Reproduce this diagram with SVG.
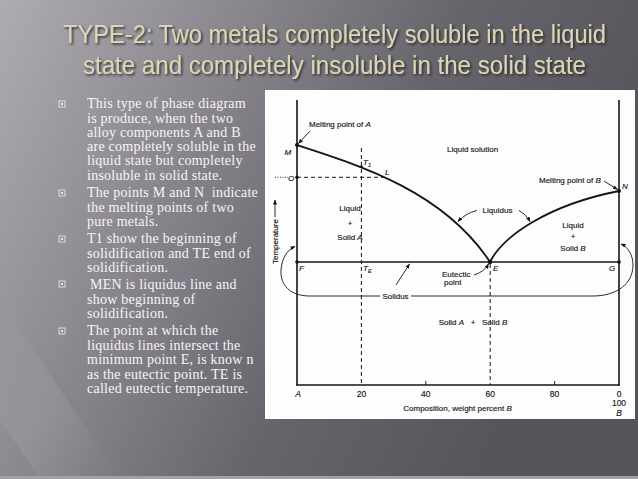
<svg xmlns="http://www.w3.org/2000/svg" width="638" height="479" viewBox="0 0 638 479">
<defs>
<linearGradient id="bg" x1="0" y1="0" x2="1" y2="0.35">
<stop offset="0" stop-color="#aeabb3"/>
<stop offset="0.3" stop-color="#8e8b93"/>
<stop offset="0.65" stop-color="#67656c"/>
<stop offset="1" stop-color="#56545a"/>
</linearGradient>
<linearGradient id="streak" x1="0" y1="0" x2="1" y2="1">
<stop offset="0" stop-color="#ffffff" stop-opacity="0"/>
<stop offset="0.5" stop-color="#ffffff" stop-opacity="0.08"/>
<stop offset="1" stop-color="#ffffff" stop-opacity="0"/>
</linearGradient>
<filter id="sh" x="-5%" y="-30%" width="110%" height="160%">
<feDropShadow dx="1.5" dy="1.5" stdDeviation="0.8" flood-color="#1e1c20" flood-opacity="0.85"/>
</filter>
<marker id="ah" viewBox="0 0 10 10" refX="9" refY="5" markerWidth="5" markerHeight="5" orient="auto" markerUnits="userSpaceOnUse">
<path d="M0,1 L10,5 L0,9 Z" fill="#111"/>
</marker>
<style>
.title{font-family:"Liberation Sans",Arial,sans-serif;font-size:25px;fill:#dcd5b4;filter:url(#sh);}
.body{font-family:"Liberation Serif","Times New Roman",serif;font-size:14px;letter-spacing:0.25px;fill:#f6f5f7;}
.bul{fill:none;stroke:#e6e4e8;stroke-width:0.9;}
.lab{font-family:"Liberation Sans",Arial,sans-serif;font-size:8px;fill:#151515;stroke:#151515;stroke-width:0.15;}
.num{font-family:"Liberation Sans",Arial,sans-serif;font-size:8.5px;fill:#151515;stroke:#151515;stroke-width:0.15;}
.it{font-style:italic;}
.ax{stroke:#151515;stroke-width:1.6;fill:none;}
.cv{stroke:#151515;stroke-width:1.8;fill:none;}
.th{stroke:#151515;stroke-width:0.9;fill:none;}
.ds{stroke:#151515;stroke-width:1;fill:none;stroke-dasharray:4 3;}
.dot{fill:#111;}
</style>
</defs>

<rect x="0" y="0" width="638" height="479" fill="url(#bg)"/>
<path d="M0,300 L120,479 L40,479 L0,420 Z" fill="url(#streak)"/>
<rect x="0" y="476" width="638" height="3" fill="#a3a1a6"/>

<g id="title">
<text class="title" x="334.5" y="43" text-anchor="middle" textLength="543" lengthAdjust="spacingAndGlyphs">TYPE-2: Two metals completely soluble in the liquid</text>
<text class="title" x="334.5" y="74" text-anchor="middle" textLength="503" lengthAdjust="spacingAndGlyphs">state and completely insoluble in the solid state</text>
</g>

<g id="bullets">
<g class="bul">
<rect x="59" y="101" width="6" height="6"/>
<rect x="59" y="190" width="6" height="6"/>
<rect x="59" y="236" width="6" height="6"/>
<rect x="59" y="281" width="6" height="6"/>
<rect x="59" y="328" width="6" height="6"/>
</g>
<g fill="#e6e4e8">
<rect x="61" y="103" width="2" height="2"/>
<rect x="61" y="192" width="2" height="2"/>
<rect x="61" y="238" width="2" height="2"/>
<rect x="61" y="283" width="2" height="2"/>
<rect x="61" y="330" width="2" height="2"/>
</g>
<g class="body">
<text x="87" y="108">This type of phase diagram</text>
<text x="87" y="122.5">is produce, when the two</text>
<text x="87" y="137">alloy components A and B</text>
<text x="87" y="151">are completely soluble in the</text>
<text x="87" y="165">liquid state but completely</text>
<text x="87" y="179.5">insoluble in solid state.</text>
<text x="87" y="197" xml:space="preserve">The points M and N  indicate</text>
<text x="87" y="211.5">the melting points of two</text>
<text x="87" y="226">pure metals.</text>
<text x="87" y="242.5">T1 show the beginning of</text>
<text x="87" y="257.5">solidification and TE end of</text>
<text x="87" y="271.5">solidification.</text>
<text x="90" y="288.5">MEN is liquidus line and</text>
<text x="87" y="304">show beginning of</text>
<text x="87" y="318">solidification.</text>
<text x="87" y="335">The point at which the</text>
<text x="87" y="350">liquidus lines intersect the</text>
<text x="87" y="364">minimum point E, is know n</text>
<text x="87" y="379">as the eutectic point. TE is</text>
<text x="87" y="392.5">called eutectic temperature.</text>
</g>
</g>

<g id="panel">
<rect x="265" y="90" width="370" height="329" fill="#fdfdfd"/>
</g>

<g id="axes">
<line class="ax" x1="297" y1="100" x2="297" y2="385.5"/>
<line class="ax" x1="619" y1="100" x2="619" y2="385.5"/>
<line class="ax" x1="296.2" y1="385" x2="619.8" y2="385"/>
<g class="th">
<line x1="425.8" y1="381" x2="425.8" y2="385"/>
<line x1="554.6" y1="381" x2="554.6" y2="385"/>
</g>
<g class="num" text-anchor="middle">
<text class="it" x="298" y="396.5">A</text>
<text x="361.4" y="396.5">20</text>
<text x="425.8" y="396.5">40</text>
<text x="490.2" y="396.5">60</text>
<text x="554.6" y="396.5">80</text>
<text x="619" y="396.5">0</text>
<text x="619" y="406">100</text>
<text class="it" x="619" y="416">B</text>
</g>
<text class="lab" x="457.5" y="410.5" text-anchor="middle">Composition, weight percent <tspan class="it">B</tspan></text>
<g id="temp-axis">
<line class="th" x1="275" y1="217" x2="275" y2="200" marker-end="url(#ah)"/>
<text class="lab" font-size="7.5" transform="translate(277.7,264) rotate(-90)">Temperature</text>
</g>
</g>

<g id="connectors">
<path class="ds" d="M361.4,148 V385"/>
<path class="ds" d="M490.2,264 V385"/>
<path class="ds" d="M297,177.3 H383"/>
<path class="th" d="M275,177.3 H288" stroke-dasharray="1 1.5"/>
<path id="liquidus-left" class="cv" d="M297,145 C362,166 444,192 490,262"/>
<path id="liquidus-right" class="cv" d="M490,262 C503,236 548,205 619,191"/>
<line id="eutectic-line" class="ax" x1="297" y1="262" x2="619" y2="262"/>
<path class="th" d="M310,131 L298.5,143.5" marker-end="url(#ah)"/>
<path class="th" d="M604,181 L617.5,189.5" marker-end="url(#ah)"/>
<path class="th" d="M477,210.5 Q466,213 458,221.5" marker-end="url(#ah)"/>
<path class="th" d="M519,210.5 Q526,214 530,221.5" marker-end="url(#ah)"/>
<path class="th" d="M474,275 Q484,272 488.5,264" marker-end="url(#ah)"/>
<path class="th" d="M396,285 L409.5,264" marker-end="url(#ah)"/>
<path class="th" d="M380,296 H310 C290,296 280,285 281,270 C282,258 287,250 295,246.5" marker-end="url(#ah)"/>
<path class="th" d="M411,296 H593 C615,296 633,285 633,265 C633,255 628,247 621,244" marker-end="url(#ah)"/>
</g>

<g id="points">
<circle class="dot" cx="297" cy="145" r="2"/>
<circle class="dot" cx="297" cy="177.3" r="1.7"/>
<circle class="dot" cx="361.4" cy="166.5" r="1.2"/>
<circle class="dot" cx="297" cy="262" r="1.8"/>
<circle class="dot" cx="490" cy="262" r="2.2"/>
<circle class="dot" cx="619" cy="262" r="1.8"/>
<circle class="dot" cx="619" cy="191" r="2"/>
</g>

<g id="labels">
<text class="lab" x="309" y="127">Melting point of <tspan class="it">A</tspan></text>
<text class="lab it" x="284.5" y="155">M</text>
<text class="lab it" x="288" y="180.5">O</text>
<text class="lab it" x="363" y="165">T<tspan font-size="5.5" dy="1.5">1</tspan></text>
<text class="lab it" x="385" y="175">L</text>
<text class="lab" x="447" y="152">Liquid solution</text>
<text class="lab" x="539" y="183">Melting point of <tspan class="it">B</tspan></text>
<text class="lab it" x="622" y="188.5">N</text>
<text class="lab" x="497.5" y="213" text-anchor="middle">Liquidus</text>
<g class="lab" text-anchor="middle">
<text x="350" y="211">Liquid</text>
<text x="350" y="225.5">+</text>
<text x="350" y="240">Solid <tspan class="it">A</tspan></text>
<text x="573" y="228">Liquid</text>
<text x="573" y="239">+</text>
<text x="573" y="251">Solid <tspan class="it">B</tspan></text>
</g>
<text class="lab it" x="299" y="271">F</text>
<text class="lab it" x="363" y="271">T<tspan font-size="5.5" dy="1.5">E</tspan></text>
<text class="lab it" x="493" y="271">E</text>
<text class="lab it" x="609" y="271">G</text>
<text class="lab" x="442" y="277">Eutectic</text>
<text class="lab" x="444" y="285">point</text>
<text class="lab" x="395.5" y="298.5" text-anchor="middle">Solidus</text>
<text class="lab" x="473" y="325" text-anchor="middle" xml:space="preserve">Solid <tspan class="it">A</tspan>   +   Solid <tspan class="it">B</tspan></text>
</g>
</svg>
